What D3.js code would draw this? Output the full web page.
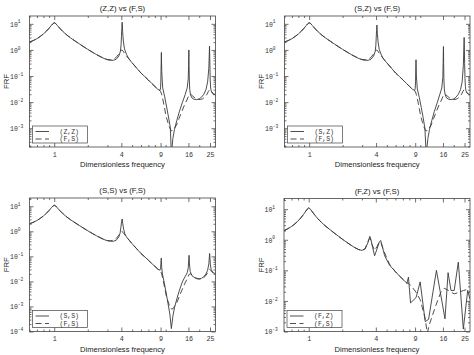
<!DOCTYPE html>
<html><head><meta charset="utf-8">
<script src="https://cdn.jsdelivr.net/npm/d3@7"></script>
<style>body{margin:0;background:#fff}svg{display:block}</style>
</head><body><svg id="c" width="474" height="355"></svg>
<script>
// ---------- DATA ----------
const titles = ["(Z,Z) vs (F,S)", "(S,Z) vs (F,S)", "(S,S) vs (F,S)", "(F,Z) vs (F,S)"];
const solidNames = ["(Z,Z)", "(S,Z)", "(S,S)", "(F,Z)"];
const dashedName = "(F,S)";
const xLabel = "Dimensionless frequency";
const yLabel = "FRF";
const xTickValues = [1, 4, 9, 16, 25];
const xTickLabels = ["1", "4", "9", "16", "25"];
const xMinorTicks = [0.6, 0.7, 0.8, 0.9, 2, 3, 5, 6, 7, 8, 10, 20];
const yTickExp12 = [1, 0, -1, -2, -3];
const yTickExp3 = [1, 0, -1, -2, -3, -4];
const yTickExp4 = [1, 0, -1, -2, -3];

// reference (F,S) curve, panels 1-3
const fsFreq = [0.6,0.65,0.7,0.75,0.8,0.85,0.9,0.94,0.97,1.0,1.03,1.07,1.12,1.2,1.3,1.4,1.55,1.7,1.85,2.0,2.2,2.4,2.6,2.8,3.0,3.2,3.4,3.6,3.8,3.95,4.05,4.15,4.3,4.5,4.75,5.0,5.5,6.0,6.5,7.0,7.5,8.0,8.5,9.0,9.2,9.5,9.8,10.1,10.5,10.8,11.2,11.6,12.0,12.5,13.2,14.0,14.8,15.5,16.2,16.8,17.5,18.5,19.5,20.5,21.5,22.5,23.5,24.2,24.8,25.3,26.0,27.0,28.0];
const fsFRF = [2.0,2.3,2.7,3.3,4.1,5.2,6.8,8.6,10.0,11.0,10.3,8.5,6.8,5.0,3.7,2.9,2.15,1.65,1.3,1.05,0.82,0.66,0.55,0.47,0.43,0.42,0.44,0.52,0.7,0.92,1.0,0.9,0.72,0.55,0.42,0.32,0.2,0.13,0.095,0.07,0.052,0.04,0.031,0.026,0.02,0.011,0.0055,0.0028,0.0016,0.0011,0.0008,0.0008,0.001,0.0013,0.0024,0.0045,0.008,0.012,0.019,0.02,0.017,0.014,0.0128,0.0125,0.0135,0.0155,0.02,0.026,0.03,0.028,0.024,0.021,0.019];

// (Z,Z)
const zzFreq = [0.6,0.65,0.7,0.75,0.8,0.85,0.9,0.94,0.97,1.0,1.03,1.07,1.12,1.2,1.3,1.4,1.55,1.7,1.85,2.0,2.2,2.4,2.6,2.8,3.0,3.2,3.4,3.6,3.8,3.93,3.98,4.01,4.04,4.07,4.11,4.17,4.27,4.45,4.6,4.75,5.0,5.5,6.0,6.5,7.0,7.5,8.0,8.5,8.9,9.0,9.06,9.11,9.15,9.22,9.4,9.8,10.2,10.6,11.0,11.25,11.6,12.0,12.6,13.3,14.1,15.0,15.6,15.95,16.05,16.15,16.22,16.3,16.45,16.7,17.2,18.0,19.0,20.0,21.0,22.0,23.0,23.8,24.4,24.75,24.95,25.1,25.3,25.6,26.2,27.0,28.0];
const zzFRF = [2.0,2.3,2.7,3.3,4.1,5.2,6.8,8.6,10.0,11.0,10.3,8.5,6.8,5.0,3.7,2.9,2.15,1.65,1.3,1.05,0.82,0.66,0.55,0.47,0.42,0.4,0.4,0.44,0.58,0.9,1.6,3.2,6.5,11.5,5.0,2.2,1.1,0.68,0.52,0.42,0.32,0.2,0.13,0.095,0.07,0.052,0.04,0.031,0.028,0.035,0.07,0.3,0.8,0.15,0.035,0.016,0.0065,0.0027,0.0011,0.0001,0.0004,0.0009,0.002,0.0045,0.0095,0.02,0.035,0.08,0.25,1.0,0.25,0.07,0.03,0.019,0.0145,0.0128,0.0125,0.0133,0.0155,0.02,0.03,0.06,0.2,1.4,0.25,0.07,0.038,0.027,0.022,0.019];

// (S,Z)
const szFreq = [0.6,0.65,0.7,0.75,0.8,0.85,0.9,0.94,0.97,1.0,1.03,1.07,1.12,1.2,1.3,1.4,1.55,1.7,1.85,2.0,2.2,2.4,2.6,2.8,3.0,3.2,3.4,3.6,3.8,3.93,3.98,4.01,4.04,4.07,4.11,4.17,4.27,4.45,4.6,4.75,5.0,5.5,6.0,6.5,7.0,7.5,8.0,8.5,8.9,9.0,9.06,9.11,9.15,9.22,9.4,9.8,10.2,10.6,11.0,11.3,11.7,12.1,12.7,13.4,14.2,15.0,15.6,15.95,16.05,16.15,16.22,16.3,16.45,16.7,17.2,18.0,19.0,20.0,21.0,22.0,23.0,23.8,24.4,24.8,25.05,25.25,25.45,25.7,26.2,27.0,28.0];
const szFRF = [2.0,2.3,2.7,3.3,4.1,5.2,6.8,8.6,10.0,11.0,10.3,8.5,6.8,5.0,3.7,2.9,2.15,1.65,1.3,1.05,0.82,0.66,0.55,0.47,0.42,0.4,0.4,0.44,0.58,0.88,1.5,2.8,5.5,9.0,4.3,2.0,1.05,0.66,0.5,0.41,0.32,0.2,0.13,0.095,0.07,0.052,0.04,0.031,0.028,0.033,0.06,0.2,0.42,0.1,0.032,0.015,0.0062,0.0026,0.001,0.0001,0.0004,0.0009,0.002,0.0045,0.0095,0.02,0.035,0.09,0.3,1.35,0.3,0.08,0.032,0.02,0.0145,0.0128,0.0125,0.0133,0.0155,0.02,0.03,0.06,0.25,3.0,0.3,0.08,0.04,0.028,0.023,0.02];

// (S,S)
const ssFreq = [0.6,0.65,0.7,0.75,0.8,0.85,0.9,0.94,0.97,1.0,1.03,1.07,1.12,1.2,1.3,1.4,1.55,1.7,1.85,2.0,2.2,2.4,2.6,2.8,3.0,3.2,3.4,3.6,3.8,3.9,3.97,4.02,4.07,4.12,4.2,4.3,4.45,4.6,4.75,5.0,5.5,6.0,6.5,7.0,7.5,8.0,8.5,8.9,9.0,9.06,9.13,9.2,9.35,9.7,10.1,10.5,10.9,11.25,11.6,12.0,12.6,13.3,14.1,15.0,15.6,15.95,16.1,16.22,16.35,16.6,17.2,18.0,19.0,20.0,21.0,22.0,23.0,23.8,24.4,24.8,25.2,25.6,26.2,27.0,28.0];
const ssFRF = [2.0,2.3,2.7,3.3,4.1,5.2,6.8,8.6,10.0,11.0,10.3,8.5,6.8,5.0,3.7,2.9,2.15,1.65,1.3,1.05,0.82,0.66,0.55,0.47,0.42,0.4,0.4,0.44,0.6,0.85,1.5,2.4,3.1,2.0,1.2,0.8,0.6,0.5,0.42,0.32,0.2,0.13,0.095,0.07,0.052,0.04,0.031,0.028,0.033,0.05,0.085,0.04,0.02,0.009,0.0035,0.0013,0.0005,0.00013,0.0004,0.0009,0.002,0.0045,0.0095,0.016,0.022,0.035,0.07,0.11,0.05,0.025,0.017,0.0145,0.0128,0.0125,0.0133,0.0155,0.02,0.028,0.05,0.13,0.045,0.03,0.025,0.022,0.02];

// (F,Z) and (F,S) of panel 4
const fzFreq = [0.6,0.65,0.7,0.75,0.8,0.85,0.9,0.94,0.97,1.0,1.03,1.07,1.12,1.2,1.3,1.4,1.55,1.7,1.85,2.0,2.2,2.4,2.6,2.8,3.0,3.2,3.4,3.53,3.62,3.75,3.9,4.1,4.3,4.42,4.55,4.8,5.3,6.0,6.5,7.2,7.6,7.85,8.2,9.2,10.0,11.1,11.9,14.0,16.7,17.8,18.9,20.2,22.0,24.4,26.7,27.9];
const fzFRF = [2.0,2.3,2.7,3.3,4.1,5.2,6.8,8.6,10.0,11.0,10.3,8.5,6.8,5.0,3.7,2.9,2.15,1.65,1.3,1.05,0.82,0.66,0.55,0.48,0.45,0.5,0.8,1.3,1.0,0.55,0.3,0.5,0.85,0.95,0.65,0.3,0.15,0.09,0.066,0.046,0.038,0.06,0.0086,0.013,0.042,0.0021,0.0025,0.1,0.0026,0.084,0.022,0.022,0.185,0.0012,0.022,0.0117];
const fs4Freq = [0.6,0.65,0.7,0.75,0.8,0.85,0.9,0.94,0.97,1.0,1.03,1.07,1.12,1.2,1.3,1.4,1.55,1.7,1.85,2.0,2.2,2.4,2.6,2.8,3.0,3.2,3.45,3.55,3.7,3.9,4.1,4.3,4.45,4.7,5.0,5.3,6.0,6.5,7.2,7.6,7.85,8.5,9.2,10.0,11.0,11.6,12.1,13.8,15.3,16.5,17.9,20.2,22.2,24.5,26.7,27.9];
const fs4FRF = [2.0,2.3,2.7,3.3,4.1,5.2,6.8,8.6,10.0,11.0,10.3,8.5,6.8,5.0,3.7,2.9,2.15,1.65,1.3,1.05,0.82,0.66,0.55,0.48,0.45,0.5,1.0,1.1,0.7,0.45,0.6,0.85,0.8,0.45,0.26,0.16,0.09,0.066,0.046,0.038,0.038,0.028,0.019,0.011,0.003,0.0009,0.0017,0.007,0.019,0.026,0.022,0.017,0.019,0.022,0.024,0.02];

// ---------- DRAW ----------
const svg = d3.select("#c");
const panels = [
  {title: titles[0], solidName: solidNames[0], sF: zzFreq, sV: zzFRF, dF: fsFreq, dV: fsFRF, exps: yTickExp12, box: {l: 29.5, r: 215.5, t: 16, b: 147}, yLo: -3.72, yHi: 1.3},
  {title: titles[1], solidName: solidNames[1], sF: szFreq, sV: szFRF, dF: fsFreq, dV: fsFRF, exps: yTickExp12, box: {l: 284.5, r: 470, t: 16, b: 147}, yLo: -3.72, yHi: 1.3},
  {title: titles[2], solidName: solidNames[2], sF: ssFreq, sV: ssFRF, dF: fsFreq, dV: fsFRF, exps: yTickExp3, box: {l: 29.5, r: 215.5, t: 198, b: 331.5}, yLo: -4, yHi: 1.33},
  {title: titles[3], solidName: solidNames[3], sF: fzFreq, sV: fzFRF, dF: fs4Freq, dV: fs4FRF, exps: yTickExp4, box: {l: 284, r: 470, t: 198.5, b: 331.5}, yLo: -3, yHi: 1.35}
];

const INK = "#333";
const LINE = "#3a3a3a";
const DASH = "6,3.5";
const MONO = "'Liberation Mono', 'DejaVu Sans Mono', monospace";
const SANS = "'Liberation Sans', Arial, sans-serif";

panels.forEach((p, i) => {
  const B = p.box;
  const x = d3.scaleLog().domain([0.6, 28]).range([B.l, B.r]);
  const y = d3.scaleLog().domain([Math.pow(10, p.yLo), Math.pow(10, p.yHi)]).range([B.b, B.t]);
  const g = svg.append("g");

  g.append("clipPath").attr("id", "clip" + i)
    .append("rect").attr("x", B.l).attr("y", B.t).attr("width", B.r - B.l).attr("height", B.b - B.t);

  const line = d3.line().x(d => x(d[0])).y(d => y(d[1]));
  const plot = g.append("g").attr("clip-path", "url(#clip" + i + ")");
  plot.append("path").datum(d3.zip(p.dF, p.dV)).attr("d", line)
    .attr("fill", "none").attr("stroke", LINE).attr("stroke-width", 0.9).attr("stroke-dasharray", DASH);
  plot.append("path").datum(d3.zip(p.sF, p.sV)).attr("d", line)
    .attr("fill", "none").attr("stroke", LINE).attr("stroke-width", 0.9);

  // minor y ticks
  const yMinor = [];
  for (let e = Math.floor(p.yLo); e <= Math.ceil(p.yHi); e++) {
    for (let k = 2; k <= 9; k++) {
      const v = k * Math.pow(10, e);
      if (Math.log10(v) > p.yLo && Math.log10(v) < p.yHi) yMinor.push(v);
    }
  }
  const yMajor = p.exps.map(e => Math.pow(10, e));

  const styleAxis = sel => {
    sel.select(".domain").remove();
    sel.selectAll(".tick line").attr("stroke", INK).attr("stroke-width", 0.7);
  };

  // bottom axis (major with labels)
  const xb = g.append("g").attr("transform", `translate(0,${B.b})`)
    .call(d3.axisBottom(x).tickValues(xTickValues).tickFormat((d, j) => xTickLabels[j]).tickSizeInner(-4).tickSizeOuter(0).tickPadding(5));
  styleAxis(xb);
  xb.selectAll("text").attr("font-family", MONO).attr("font-size", 6.7).attr("fill", INK);
  g.append("g").attr("transform", `translate(0,${B.b})`)
    .call(d3.axisBottom(x).tickValues(xMinorTicks).tickFormat("").tickSizeInner(-2).tickSizeOuter(0)).call(styleAxis);
  // top axis
  g.append("g").attr("transform", `translate(0,${B.t})`)
    .call(d3.axisTop(x).tickValues(xTickValues).tickFormat("").tickSizeInner(-4).tickSizeOuter(0)).call(styleAxis);
  g.append("g").attr("transform", `translate(0,${B.t})`)
    .call(d3.axisTop(x).tickValues(xMinorTicks).tickFormat("").tickSizeInner(-2).tickSizeOuter(0)).call(styleAxis);

  // left axis
  const yl = g.append("g").attr("transform", `translate(${B.l},0)`)
    .call(d3.axisLeft(y).tickValues(yMajor).tickFormat("").tickSizeInner(-4).tickSizeOuter(0));
  styleAxis(yl);
  yl.selectAll(".tick").each(function (d) {
    const t = d3.select(this).select("text");
    t.attr("x", -19.5).attr("dy", null).attr("y", 2.3).attr("text-anchor", "start")
      .attr("font-family", MONO).attr("font-size", 6.5).attr("fill", INK).text(null);
    t.append("tspan").text("10");
    t.append("tspan").attr("dy", -3.2).attr("font-size", 4.6).text(String(Math.round(Math.log10(d))));
  });
  g.append("g").attr("transform", `translate(${B.l},0)`)
    .call(d3.axisLeft(y).tickValues(yMinor).tickFormat("").tickSizeInner(-2).tickSizeOuter(0)).call(styleAxis);
  // right axis
  g.append("g").attr("transform", `translate(${B.r},0)`)
    .call(d3.axisRight(y).tickValues(yMajor).tickFormat("").tickSizeInner(-4).tickSizeOuter(0)).call(styleAxis);
  g.append("g").attr("transform", `translate(${B.r},0)`)
    .call(d3.axisRight(y).tickValues(yMinor).tickFormat("").tickSizeInner(-2).tickSizeOuter(0)).call(styleAxis);

  // frame
  g.append("rect").attr("x", B.l).attr("y", B.t).attr("width", B.r - B.l).attr("height", B.b - B.t)
    .attr("fill", "none").attr("stroke", "#444").attr("stroke-width", 0.8);

  // title, axis labels
  const cx = (B.l + B.r) / 2;
  g.append("text").attr("x", cx).attr("y", B.t - 5).attr("text-anchor", "middle")
    .attr("font-family", SANS).attr("font-size", 7.8).attr("fill", "#222").text(p.title);
  g.append("text").attr("x", cx).attr("y", B.b + 20).attr("text-anchor", "middle")
    .attr("font-family", SANS).attr("font-size", 7.6).attr("fill", "#222").text(xLabel);
  g.append("text").attr("transform", `translate(${B.l - 20.5},${(B.t + B.b) / 2}) rotate(-90)`)
    .attr("text-anchor", "middle").attr("font-family", SANS).attr("font-size", 7.8).attr("fill", "#222").text(yLabel);

  // legend
  const lg = g.append("g");
  const lx = B.l + 3, ly = B.b - 21;
  lg.append("rect").attr("x", lx).attr("y", ly).attr("width", 55).attr("height", 17)
    .attr("fill", "#fff").attr("stroke", "#444").attr("stroke-width", 0.7);
  const rows = [{name: p.solidName, dash: null, yy: ly + 5.5}, {name: dashedName, dash: DASH, yy: ly + 13}];
  rows.forEach(r => {
    lg.append("line").attr("x1", lx + 3).attr("x2", lx + 16.5).attr("y1", r.yy).attr("y2", r.yy)
      .attr("stroke", LINE).attr("stroke-width", 0.9).attr("stroke-dasharray", r.dash);
    lg.append("text").attr("x", lx + 27).attr("y", r.yy + 2.2).attr("font-family", MONO)
      .attr("font-size", 6.5).attr("fill", INK).text(r.name);
  });
});
</script>
</body></html>
